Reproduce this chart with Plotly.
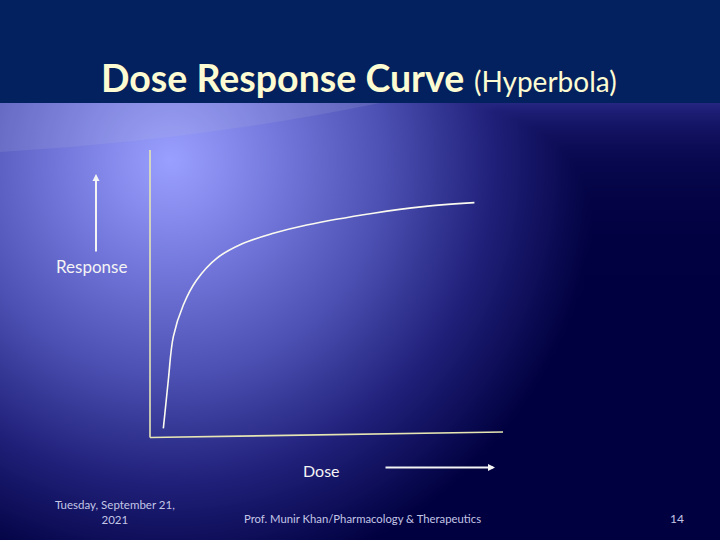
import numpy as np
import plotly.graph_objects as go

# ---- data (dose / response, arbitrary units 0-100) ----
dose = [3.78, 5.19, 6.61, 9.44, 13.22, 18.89, 25.97, 34.94, 44.4, 63.3, 77.4, 91.9]
response = [3.19, 20.0, 35.07, 46.09, 54.78, 62.32, 67.3, 71.01, 73.9, 78.0, 80.3, 81.7]

# hand-drawn axis lines of the slide
resp_axis_x = [0, 0]
resp_axis_y = [0, 100]
dose_axis_x = [0, 100]
dose_axis_y = [0, 1.9]

title_main = "Dose Response Curve"
title_sub = "(Hyperbola)"
label_y = "Response"
label_x = "Dose"
footer_date = "Tuesday, September 21,<br>2021"
footer_mid = "Prof. Munir Khan/Pharmacology &amp; Therapeutics"
footer_page = "14"

W, H = 720, 540
BAND = 103  # height of the top title band (px)

# ---- background gradient (styling only) ----
gx = np.arange(0, W + 8, 8, dtype=float)
gy = np.arange(BAND, H + 8, 8, dtype=float)
XX, YY = np.meshgrid(gx, gy)
d = np.sqrt((XX - 170) ** 2 + (YY - 160) ** 2)
L_r = np.clip(1 - d / 430.0, 0, 1)
L_t = 0.28 * np.exp(-(YY - BAND) / 40.0)
L = np.maximum(L_r, L_t)

bg_scale = [
    [0.0, "#000040"],
    [0.25, "#20207a"],
    [0.5, "#4c50b2"],
    [0.75, "#7478dc"],
    [1.0, "#9aa0ff"],
]

fig = go.Figure()

fig.add_trace(go.Heatmap(
    x=gx, y=gy, z=L, colorscale=bg_scale, zmin=0, zmax=1,
    zsmooth="best", showscale=False, hoverinfo="skip",
    xaxis="x", yaxis="y",
))

axis_col = "#e6e6b4"
fig.add_trace(go.Scatter(
    x=resp_axis_x, y=resp_axis_y, mode="lines",
    line=dict(color=axis_col, width=1.6), hoverinfo="skip",
    xaxis="x2", yaxis="y2",
))
fig.add_trace(go.Scatter(
    x=dose_axis_x, y=dose_axis_y, mode="lines",
    line=dict(color=axis_col, width=1.6), hoverinfo="skip",
    xaxis="x2", yaxis="y2",
))
fig.add_trace(go.Scatter(
    x=dose, y=response, mode="lines", line_shape="spline",
    line=dict(color="#fafaf0", width=1.6, smoothing=1.0),
    xaxis="x2", yaxis="y2",
))

# chart axes mapping: dose 0 -> 150px, 100 -> 503px ; response 0 -> 437.5px, 100 -> 150px
px_per_x = (503 - 150) / 100.0
px_per_y = (437.5 - 150) / 100.0
xr = [-3, 103]
yr = [-3, 103]
xd = [(150 + xr[0] * px_per_x) / W, (150 + xr[1] * px_per_x) / W]
yd = [1 - (437.5 - yr[0] * px_per_y) / H, 1 - (437.5 - yr[1] * px_per_y) / H]

hidden = dict(visible=False, showgrid=False, zeroline=False, fixedrange=True)

fig.update_layout(
    width=W, height=H,
    margin=dict(l=0, r=0, t=0, b=0),
    paper_bgcolor="#03215f",
    plot_bgcolor="rgba(0,0,0,0)",
    showlegend=False,
    xaxis=dict(hidden, domain=[0, 1], range=[0, W]),
    yaxis=dict(hidden, domain=[0, 1 - BAND / H], range=[H, BAND]),
    xaxis2=dict(hidden, domain=xd, range=xr, anchor="y2"),
    yaxis2=dict(hidden, domain=yd, range=yr, anchor="x2"),
    font=dict(family="Lato, Open Sans, sans-serif"),
)

# soft lighter arc in the upper-left
fig.add_shape(
    type="path", xref="x", yref="y",
    path=f"M 0,{BAND} L 0,152 Q 200,140 380,{BAND} Z",
    fillcolor="rgba(190,190,215,0.14)", line=dict(width=0), layer="above",
)

# arrows
fig.add_annotation(x=96, y=174, xref="x", yref="y", ax=0, ay=79,
                   showarrow=True, arrowhead=2, arrowsize=0.7, arrowwidth=2,
                   arrowcolor="#f4f4f4", text="")
fig.add_annotation(x=495, y=467.5, xref="x", yref="y", ax=-111, ay=0,
                   showarrow=True, arrowhead=2, arrowsize=0.7, arrowwidth=2,
                   arrowcolor="#f4f4f4", text="")

# labels
fig.add_annotation(x=91.5, y=266, xref="x", yref="y", text=label_y, showarrow=False,
                   font=dict(size=17, color="#f4f4f4"))
fig.add_annotation(x=321, y=470, xref="x", yref="y", text=label_x, showarrow=False,
                   font=dict(size=16, color="#f4f4f4"))

# title
fig.add_annotation(
    x=99 / W, y=1 - 78 / H, xref="paper", yref="paper", showarrow=False,
    text=f"<b>{title_main}</b> <span style='font-size:28px'>{title_sub}</span>",
    font=dict(size=37.5, color="#fdfbd2"), xanchor="left", yanchor="middle",
)

# footer
foot_col = "#c4c6e6"
fig.add_annotation(x=115, y=512, xref="x", yref="y", text=footer_date, showarrow=False,
                   font=dict(size=11.5, color=foot_col), align="center")
fig.add_annotation(x=362, y=518, xref="x", yref="y", text=footer_mid, showarrow=False,
                   font=dict(size=11.3, color=foot_col))
fig.add_annotation(x=677, y=518, xref="x", yref="y", text=footer_page, showarrow=False,
                   font=dict(size=12, color=foot_col))

fig.write_html("out.html")
